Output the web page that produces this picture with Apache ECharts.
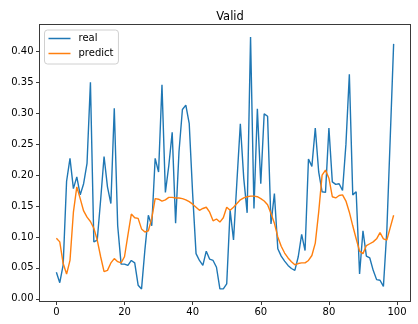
<!DOCTYPE html>
<html>
<head>
<meta charset="utf-8">
<script src="https://cdn.jsdelivr.net/npm/echarts@6/dist/echarts.min.js"></script>
<style>
  html, body { margin: 0; padding: 0; background: #fff; }
  #chart { width: 418px; height: 324px; }
</style>
</head>
<body>
<div id="chart"></div>
<script>
// Validation set: observed values vs model predictions, one value per step
const realValues = [
  0.043, 0.026, 0.055, 0.190, 0.227, 0.178, 0.197, 0.168, 0.186, 0.219,
  0.350, 0.092, 0.095, 0.160, 0.230, 0.181, 0.154, 0.308, 0.118, 0.056,
  0.056, 0.054, 0.062, 0.058, 0.022, 0.016, 0.080, 0.135, 0.118, 0.227,
  0.205, 0.346, 0.172, 0.215, 0.269, 0.122, 0.238, 0.306, 0.313, 0.283,
  0.170, 0.073, 0.062, 0.054, 0.077, 0.064, 0.062, 0.051, 0.016, 0.016,
  0.024, 0.143, 0.095, 0.190, 0.283, 0.195, 0.139, 0.423, 0.146, 0.307,
  0.186, 0.299, 0.295, 0.121, 0.170, 0.081, 0.069, 0.061, 0.054, 0.049,
  0.046, 0.068, 0.104, 0.078, 0.226, 0.214, 0.276, 0.205, 0.173, 0.172,
  0.276, 0.189, 0.185, 0.186, 0.175, 0.250, 0.363, 0.168, 0.173, 0.040,
  0.110, 0.069, 0.066, 0.046, 0.031, 0.030, 0.020, 0.110, 0.260, 0.412
];
const predictValues = [
  0.098, 0.092, 0.057, 0.040, 0.062, 0.140, 0.181, 0.162, 0.142, 0.132,
  0.125, 0.114, 0.095, 0.068, 0.044, 0.046, 0.058, 0.065, 0.060, 0.058,
  0.068, 0.103, 0.137, 0.131, 0.130, 0.113, 0.108, 0.110, 0.130, 0.162,
  0.161, 0.158, 0.160, 0.164, 0.164, 0.163, 0.163, 0.162, 0.160, 0.157,
  0.153, 0.148, 0.143, 0.146, 0.148, 0.140, 0.126, 0.129, 0.124, 0.131,
  0.148, 0.143, 0.148, 0.154, 0.160, 0.163, 0.165, 0.166, 0.166, 0.165,
  0.162, 0.158, 0.152, 0.138, 0.122, 0.100, 0.085, 0.074, 0.066, 0.060,
  0.055, 0.057, 0.058, 0.058, 0.062, 0.070, 0.090, 0.140, 0.200, 0.208,
  0.195, 0.165, 0.163, 0.167, 0.168, 0.158, 0.140, 0.118, 0.097, 0.077,
  0.073, 0.086, 0.089, 0.092, 0.097, 0.107, 0.097, 0.095, 0.115, 0.135
];
const xTicks = [0, 20, 40, 60, 80, 100];
const yTicks = [0.00, 0.05, 0.10, 0.15, 0.20, 0.25, 0.30, 0.35, 0.40];
const seriesNames = ['real', 'predict'];
const chartTitle = 'Valid';

const FONT = 'DejaVu Sans';
const INK = '#000';
const SPINE = '#3a3a3a';

// Axis ranges padded by 5% of the data span on each side
const n = realValues.length;
const xPad = (n - 1) * 0.05;
const allVals = realValues.concat(predictValues);
const yMinData = Math.min.apply(null, allVals);
const yMaxData = Math.max.apply(null, allVals);
const yPad = (yMaxData - yMinData) * 0.05;
const xRange = { min: -xPad, max: (n - 1) + xPad };
const yRange = { min: yMinData - yPad, max: yMaxData + yPad };

const toPairs = arr => arr.map((v, i) => [i, v]);

// Plain spine used for the top and right sides of the frame
const frameAxis = (position, range) => Object.assign({
  type: 'value', position: position,
  axisLine: { show: true, onZero: false, lineStyle: { color: SPINE, width: 1 } },
  axisTick: { show: false }, axisLabel: { show: false }, splitLine: { show: false }
}, range);

const chart = echarts.init(document.getElementById('chart'), null, { renderer: 'canvas' });
chart.setOption({
  animation: false,
  backgroundColor: '#fff',
  title: {
    text: chartTitle,
    left: 225,
    textAlign: 'center',
    top: 6,
    textStyle: { fontFamily: FONT, fontSize: 11.5, fontWeight: 'normal', color: INK }
  },
  grid: { left: 39.5, top: 24.5, right: 7.5, bottom: 22.5 },
  legend: {
    data: seriesNames,
    orient: 'vertical',
    left: 44.5,
    top: 30,
    icon: 'rect',
    itemWidth: 22,
    itemHeight: 1.5,
    itemGap: 3,
    padding: [2.5, 5, 4.5, 4],
    borderColor: '#d0d0d0',
    borderWidth: 1,
    borderRadius: 3,
    backgroundColor: 'rgba(255,255,255,0.8)',
    textStyle: { fontFamily: FONT, fontSize: 10, color: INK, lineHeight: 12, padding: [0, 0, 0, 3] }
  },
  xAxis: [
    Object.assign({
      type: 'value',
      position: 'bottom',
      splitLine: { show: false },
      axisLine: { show: true, onZero: false, lineStyle: { color: SPINE, width: 1 } },
      axisTick: { show: true, customValues: xTicks, length: 3.5, lineStyle: { color: SPINE, width: 1 } },
      axisLabel: {
        customValues: xTicks, margin: 6,
        fontFamily: FONT, fontSize: 10, color: INK,
        formatter: v => String(Math.round(v))
      }
    }, xRange),
    frameAxis('top', xRange)
  ],
  yAxis: [
    Object.assign({
      type: 'value',
      position: 'left',
      splitLine: { show: false },
      axisLine: { show: true, onZero: false, lineStyle: { color: SPINE, width: 1 } },
      axisTick: { show: true, customValues: yTicks, length: 3.5, lineStyle: { color: SPINE, width: 1 } },
      axisLabel: {
        customValues: yTicks, margin: 6,
        fontFamily: FONT, fontSize: 10, color: INK,
        formatter: v => v.toFixed(2)
      }
    }, yRange),
    frameAxis('right', yRange)
  ],
  series: [
    {
      name: seriesNames[0], type: 'line', data: toPairs(realValues),
      xAxisIndex: 0, yAxisIndex: 0,
      showSymbol: false, color: '#1f77b4',
      lineStyle: { width: 1.4, color: '#1f77b4' }
    },
    {
      name: seriesNames[1], type: 'line', data: toPairs(predictValues),
      xAxisIndex: 0, yAxisIndex: 0,
      showSymbol: false, color: '#ff7f0e',
      lineStyle: { width: 1.4, color: '#ff7f0e' }
    }
  ]
});
</script>
</body>
</html>
